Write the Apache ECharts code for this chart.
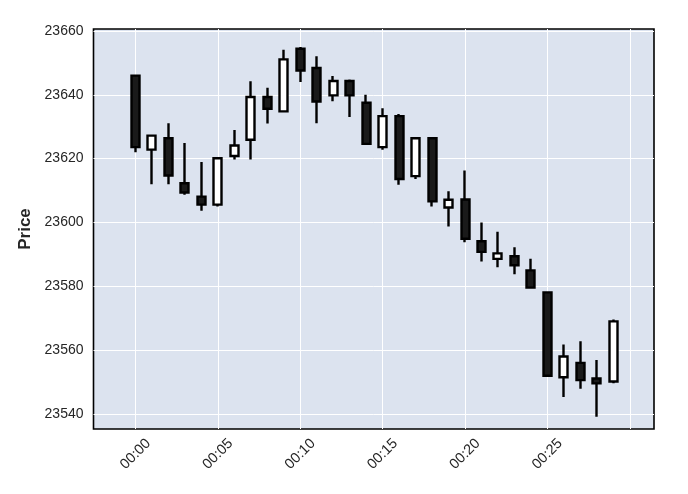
<!DOCTYPE html>
<html>
<head>
<meta charset="utf-8">
<script src="https://cdn.jsdelivr.net/npm/echarts@6/dist/echarts.min.js"></script>
<style>
html,body{margin:0;padding:0;background:#fff;}
#chart{width:688px;height:494px;}
</style>
</head>
<body>
<div id="chart"></div>
<script>
// minute index of each candle (00:00 ... 00:29)
const minutes = [0,1,2,3,4,5,6,7,8,9,10,11,12,13,14,15,16,17,18,19,20,21,22,23,24,25,26,27,28,29];
const opens  = [23646,23622.8,23626.4,23612.3,23608.1,23605.6,23620.8,23625.9,23639.3,23634.8,
                23654.4,23648.4,23639.8,23644.3,23637.5,23623.6,23633.3,23614.5,23626.4,23604.7,
                23607.2,23594.1,23588.6,23589.4,23585,23578.1,23551.5,23556,23551.1,23550.2];
const closes = [23623.6,23627.2,23614.7,23609.4,23605.6,23620.1,23624.1,23639.3,23635.6,23651.1,
                23647.6,23637.9,23644.3,23639.8,23624.6,23633.3,23613.6,23626.4,23606.6,23607.1,
                23594.9,23590.8,23590.3,23586.6,23579.6,23552,23558,23550.6,23549.6,23569];
const lows   = [23622,23612,23612,23608.7,23603.7,23605,23619.7,23619.7,23631,23634.8,
                23644,23631.1,23638,23633,23624.6,23622.8,23611.8,23613.6,23605,23598.7,
                23593.8,23587.8,23586,23583.8,23579.6,23551.8,23545.3,23547.9,23539.1,23549.6];
const highs  = [23646,23627.2,23631.1,23624.9,23618.9,23620.1,23629,23644.2,23642.2,23654.1,
                23655,23652.1,23645.9,23644.8,23640,23635.8,23634,23626.4,23626.4,23609.8,
                23616.3,23600,23597.1,23592.2,23588.6,23578.1,23561.8,23562.8,23556.9,23569.6];
const xTickMinutes  = [0,5,10,15,20,25,30];
const xLabelMinutes = [0,5,10,15,20,25];
const yTicks = [23540,23560,23580,23600,23620,23640,23660];

function fmtTime(m){ return '00:' + String(Math.round(m)).padStart(2,'0'); }

const candleData = minutes.map((m,i)=>[m, opens[i], closes[i], lows[i], highs[i]]);

const chart = echarts.init(document.getElementById('chart'), null, {renderer:'canvas'});
chart.setOption({
  animation:false,
  backgroundColor:'#ffffff',
  grid:{left:93.5,right:34,top:29,bottom:65,show:true,backgroundColor:'#DCE3EF',
        borderColor:'#000',borderWidth:1.6},
  xAxis:{
    type:'value', min:-2.55, max:31.47,
    axisLine:{show:false},
    axisTick:{show:false, customValues:xTickMinutes},
    splitLine:{show:true, lineStyle:{color:'#ffffff',width:1}},
    axisLabel:{customValues:xLabelMinutes, formatter:fmtTime, rotate:45, align:'center',
               verticalAlign:'middle', margin:25, fontSize:14.5, color:'#262626',
               fontFamily:'Liberation Sans, Arial, sans-serif'}
  },
  yAxis:{
    type:'value', min:23535.3, max:23660.6,
    name:'Price', nameLocation:'middle', nameGap:52,
    nameTextStyle:{fontSize:17,fontWeight:'bold',color:'#262626',fontFamily:'Liberation Sans, Arial, sans-serif'},
    axisLine:{show:false},
    axisTick:{show:false, customValues:yTicks},
    splitLine:{show:true, lineStyle:{color:'#ffffff',width:1}},
    axisLabel:{customValues:yTicks, formatter:(v)=>String(Math.round(v)), fontSize:14, color:'#262626', margin:10,
               fontFamily:'Liberation Sans, Arial, sans-serif'}
  },
  series:[{
    type:'candlestick',
    data:candleData,
    encode:{x:0, y:[1,2,3,4]},
    barWidth:8.5,
    itemStyle:{color:'#ffffff', color0:'#1a1a1a', borderColor:'#000000', borderColor0:'#000000', borderWidth:2.4}
  }]
});
</script>
</body>
</html>
